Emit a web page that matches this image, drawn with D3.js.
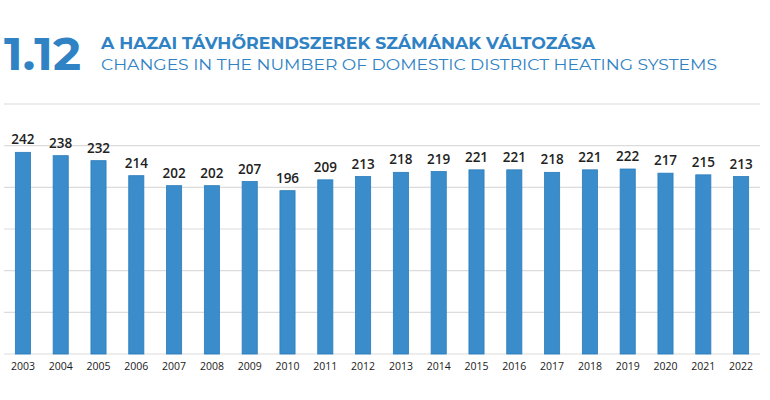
<!DOCTYPE html>
<html lang="hu">
<head>
<meta charset="UTF-8" />
<title>1.12 Távhőrendszerek</title>
<script src="https://d3js.org/d3.v7.min.js"></script>
<style>
  body { margin: 0; background: #fff; }
  .bar { fill: #3a8dca; stroke: #2a7cbd; stroke-width: 0.8; }
  .grid line { stroke: #dcdcdc; stroke-width: 1.2; }
  .lbl { font-family: "Open Sans", sans-serif; font-size: 13.5px; font-weight: 600; fill: #222; }
  .tick text { font-family: "Open Sans", sans-serif; font-size: 10.5px; fill: #1a1a1a; }
</style>
</head>
<body>
<svg width="770" height="400"></svg>
<script>
var years = ["2003","2004","2005","2006","2007","2008","2009","2010","2011","2012",
             "2013","2014","2015","2016","2017","2018","2019","2020","2021","2022"];
var systems = [242,238,232,214,202,202,207,196,209,213,218,219,221,221,218,221,222,217,215,213];
var gridValues = [0,50,100,150,200,250,300];

var svg = d3.select("svg");
var blue = "#2f82c4";

// title
svg.append("text")
   .attr("x", 4).attr("y", 70)
   .attr("font-family", "Montserrat, 'Open Sans', sans-serif")
   .attr("font-weight", 700)
   .attr("font-size", "46px")
   .attr("fill", blue)
   .attr("textLength", 77).attr("lengthAdjust", "spacingAndGlyphs")
   .text("1.12");

svg.append("text")
   .attr("x", 101).attr("y", 49)
   .attr("font-family", "Montserrat, 'Open Sans', sans-serif")
   .attr("font-weight", 700)
   .attr("font-size", "15.5px")
   .attr("fill", blue)
   .attr("textLength", 494).attr("lengthAdjust", "spacingAndGlyphs")
   .text("A HAZAI TÁVHŐRENDSZEREK SZÁMÁNAK VÁLTOZÁSA");

svg.append("text")
   .attr("x", 101).attr("y", 70)
   .attr("font-family", "Montserrat, 'Open Sans', sans-serif")
   .attr("font-weight", 400)
   .attr("font-size", "15.5px")
   .attr("fill", blue)
   .attr("textLength", 616).attr("lengthAdjust", "spacingAndGlyphs")
   .text("CHANGES IN THE NUMBER OF DOMESTIC DISTRICT HEATING SYSTEMS");

var plotLeft = 4, plotRight = 760, plotTop = 104, plotBottom = 354;

var x = d3.scaleBand().domain(years).range([plotLeft, plotRight]).paddingInner(0.6).paddingOuter(0.3);
var y = d3.scaleLinear().domain([0, 300]).range([plotBottom, plotTop]);

// gridlines
svg.append("g").attr("class", "grid")
   .selectAll("line")
   .data(gridValues)
   .enter().append("line")
   .attr("x1", plotLeft).attr("x2", plotRight)
   .attr("y1", function(d) { return y(d); })
   .attr("y2", function(d) { return y(d); });

// bars
svg.selectAll(".bar")
   .data(systems)
   .enter().append("rect")
   .attr("class", "bar")
   .attr("x", function(d, i) { return x(years[i]); })
   .attr("y", function(d) { return y(d); })
   .attr("width", x.bandwidth())
   .attr("height", function(d) { return plotBottom - y(d); });

// value labels
svg.selectAll(".lbl")
   .data(systems)
   .enter().append("text")
   .attr("class", "lbl")
   .attr("text-anchor", "middle")
   .attr("x", function(d, i) { return x(years[i]) + x.bandwidth() / 2; })
   .attr("y", function(d) { return y(d) - 8; })
   .text(function(d) { return d; });

// x axis
var xAxis = svg.append("g")
   .attr("transform", "translate(0," + plotBottom + ")")
   .call(d3.axisBottom(x).tickSize(0).tickPadding(9));
xAxis.select(".domain").remove();
</script>
</body>
</html>
